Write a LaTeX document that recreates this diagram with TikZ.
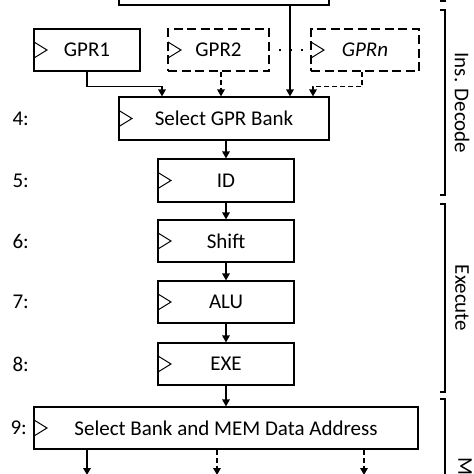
\documentclass[tikz,border=0pt]{standalone}
\usepackage{fontspec}
\setmainfont{Carlito}
\usetikzlibrary{arrows.meta}

\tikzset{
	stage/.style={draw, line width=1.2pt, inner sep=0pt, minimum height=42pt, font=\fontsize{21}{25}\selectfont,
		path picture={\draw[solid, line width=1pt] ([yshift=8pt]path picture bounding box.west) -- ++(13pt,-8pt) -- ++(-13pt,-8pt);}},
	spare/.style={stage, dash pattern=on 9pt off 4.5pt},
	link/.style={-{Triangle[length=7pt,width=7.5pt]}, line width=1.5pt},
	steplbl/.style={anchor=west, font=\fontsize{21}{25}\selectfont},
	phase/.style={line width=1.5pt},
	phaselbl/.style={rotate=-90, font=\fontsize{21}{25}\selectfont}
}

\begin{document}
\begin{tikzpicture}[x=1pt, y=-1pt]
	\useasboundingbox (0,0) rectangle (474,474);
	% register stages
	\node[stage, minimum width=210pt, minimum height=45pt, path picture={}] (fetch) at (224,-17.5) {};
	\node[stage, minimum width=106pt] (gpr1) at (87,50) {GPR1};
	\node[spare, minimum width=101pt] (gpr2) at (218.5,50) {GPR2};
	\node[spare, minimum width=108pt] (gprn) at (365,50) {\itshape GPRn};
	\node[stage, minimum width=210pt, minimum height=43pt] (selgpr) at (224,118.5) {Select GPR Bank};
	\node[stage, minimum width=136pt, minimum height=43pt] (id) at (226,180.5) {ID};
	\node[stage, minimum width=136pt] (shift) at (226,241) {Shift};
	\node[stage, minimum width=136pt] (alu) at (226,302) {ALU};
	\node[stage, minimum width=136pt] (exe) at (226,364) {EXE};
	\node[stage, minimum width=384pt] (selmem) at (226,428) {Select Bank and MEM Data Address};
	% step numbers
	\node[steplbl] (n4) at (9,118.5) {4:};
	\node[steplbl] (n5) at (9,180.5) {5:};
	\node[steplbl] (n6) at (9,241) {6:};
	\node[steplbl] (n7) at (9,302) {7:};
	\node[steplbl] (n8) at (9,364) {8:};
	\node[steplbl] (n9) at (7,428) {9:};
	% connections
	\draw[line width=1.5pt, dash pattern=on 1.5pt off 9.5pt, dash phase=1.5pt] (gpr2.east) -- (gprn.west);
	\draw[link] (gpr1.south) -- ++(0,15) -| ([xshift=-62pt]selgpr.north);
	\draw[link, dash pattern=on 5pt off 3pt] ([xshift=2.5pt]gpr2.south) -- ([xshift=-3pt]selgpr.north);
	\draw[link] ([xshift=66pt]fetch.south) -- ([xshift=66pt]selgpr.north);
	\draw[link, dash pattern=on 5pt off 3pt] ([xshift=-3pt]gprn.south) -- ++(0,15) -| ([xshift=89pt]selgpr.north);
	\draw[link] (id.north |- selgpr.south) -- (id.north);
	\draw[link] (id) -- (shift);
	\draw[link] (shift) -- (alu);
	\draw[link] (alu) -- (exe);
	\draw[link] (exe) -- (selmem);
	\coordinate (out1) at (87,475);
	\coordinate (out2) at (217,475);
	\coordinate (outn) at (364,475);
	\draw[link] (selmem.south -| out1) -- (out1);
	\draw[link, dash pattern=on 5pt off 3pt] (selmem.south -| out2) -- (out2);
	\draw[link, dash pattern=on 5pt off 3pt] (selmem.south -| outn) -- (outn);
	% pipeline phases
	\draw[phase] (440,-60) -| (445,1) -- (440,1);
	\draw[phase] (440,10) -| (445,195) -- (440,195);
	\draw[phase] (440,204) -| (445,392) -- (440,392);
	\draw[phase] (440,399) -| (445,520);
	\node[phaselbl] (decode) at (462,103) {Ins. Decode};
	\node[phaselbl] (execute) at (462,298) {Execute};
	\node[phaselbl, anchor=west] (mem) at (465,454) {M};
\end{tikzpicture}
\end{document}
